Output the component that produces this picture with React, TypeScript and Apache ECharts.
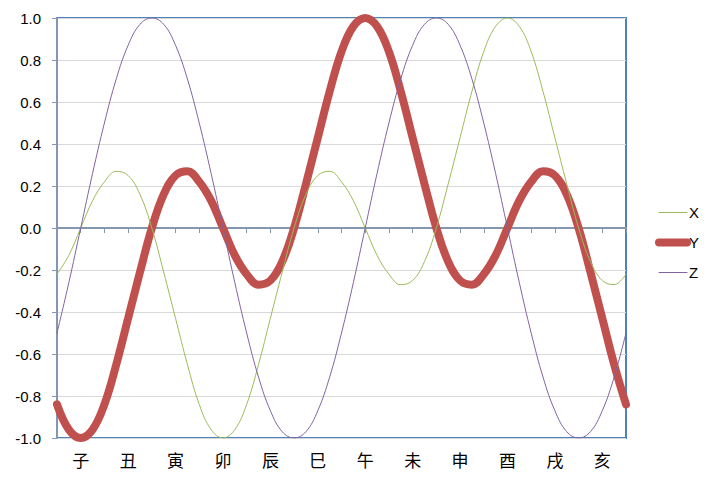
import React, { useEffect, useRef } from 'react';
import * as echarts from 'echarts';

// the twelve earthly branches; a tick every second sample, a label every fourth
const branches = ['子', '丑', '寅', '卯', '辰', '巳', '午', '未', '申', '酉', '戌', '亥'];

// 49 samples at every tick and half tick
const xValues = [
    -0.22, -0.13, 0, 0.13, 0.22, 0.27, 0.25, 0.16, 0, -0.21, -0.43, -0.65, -0.84,
    -0.96, -1, -0.96, -0.84, -0.65, -0.43, -0.21, 0, 0.16, 0.25, 0.27, 0.22, 0.13,
    0, -0.13, -0.22, -0.27, -0.25, -0.16, 0, 0.21, 0.43, 0.65, 0.84, 0.96, 1,
    0.96, 0.84, 0.65, 0.43, 0.21, 0, -0.16, -0.25, -0.27, -0.22,
];
const yValues = [
    -0.84, -0.96, -1, -0.96, -0.84, -0.65, -0.43, -0.21, 0, 0.16, 0.25, 0.27, 0.22,
    0.13, 0, -0.13, -0.22, -0.27, -0.25, -0.16, 0, 0.21, 0.43, 0.65, 0.84, 0.96,
    1, 0.96, 0.84, 0.65, 0.43, 0.21, 0, -0.16, -0.25, -0.27, -0.22, -0.13, 0,
    0.13, 0.22, 0.27, 0.25, 0.16, 0, -0.21, -0.43, -0.65, -0.84,
];
const zValues = [
    -0.5, -0.26, 0, 0.26, 0.5, 0.71, 0.87, 0.97, 1, 0.97, 0.87, 0.71, 0.5,
    0.26, 0, -0.26, -0.5, -0.71, -0.87, -0.97, -1, -0.97, -0.87, -0.71, -0.5,
    -0.26, 0, 0.26, 0.5, 0.71, 0.87, 0.97, 1, 0.97, 0.87, 0.71, 0.5, 0.26, 0,
    -0.26, -0.5, -0.71, -0.87, -0.97, -1, -0.97, -0.87, -0.71, -0.5,
];

const categories: string[] = xValues.map((_, i) =>
    i % 4 === 2 ? branches[(i - 2) / 4] : ''
);

const colorX = '#9BBB59';
const colorY = '#C0504D';
const colorZ = '#8064A2';

const App = () => {
    const chartRef = useRef<HTMLDivElement>(null);

    useEffect(() => {
        const myChart = echarts.init(chartRef.current, null, { renderer: 'svg' });

        const axisColor = '#8497B0';
        const smooth = 0.4;

        const line = (name: string, data: number[], color: string, width: number, z: number) => ({
            name,
            type: 'line',
            data,
            smooth,
            symbol: 'none',
            color,
            lineStyle: { width, color, cap: 'round' },
            z,
        });

        myChart.setOption({
            animation: false,
            grid: {
                left: 57,
                right: 82,
                top: 18,
                bottom: 46,
                show: true,
                borderColor: '#4F81BD',
                borderWidth: 2,
                backgroundColor: '#fff',
            },
            legend: {
                orient: 'vertical',
                left: 655,
                top: 205,
                padding: 0,
                itemWidth: 28,
                itemHeight: 14,
                itemGap: 15,
                itemStyle: { opacity: 0 },
                textStyle: { fontFamily: 'Liberation Sans', fontSize: 15, color: '#000', padding: [0, 0, 0, -3] },
                data: [
                    { name: 'X', lineStyle: { width: 1, color: colorX } },
                    { name: 'Y', lineStyle: { width: 8, color: colorY, cap: 'round' } },
                    { name: 'Z', lineStyle: { width: 1, color: colorZ } },
                ],
            },
            xAxis: {
                type: 'category',
                boundaryGap: false,
                data: categories,
                axisLine: { lineStyle: { color: axisColor, width: 2 } },
                axisTick: { interval: 1, length: 5, lineStyle: { color: axisColor, width: 1 } },
                axisLabel: {
                    interval: 0,
                    margin: 13,
                    fontFamily: 'Noto Sans CJK SC',
                    fontSize: 17,
                    color: '#000',
                },
                splitLine: { show: false },
            },
            yAxis: {
                type: 'value',
                min: -1,
                max: 1,
                interval: 0.2,
                axisLine: { show: true, lineStyle: { color: axisColor, width: 2 } },
                axisTick: { show: true, length: 5, lineStyle: { color: axisColor, width: 1 } },
                axisLabel: {
                    margin: 16,
                    fontFamily: 'Liberation Sans',
                    fontSize: 15,
                    color: '#000',
                    formatter: (v: number) => (Math.round(v * 10) / 10).toFixed(1),
                },
                splitLine: { lineStyle: { color: '#D9D9D9', width: 1 } },
            },
            series: [
                line('X', xValues, colorX, 1, 3),
                line('Y', yValues, colorY, 8, 2),
                line('Z', zValues, colorZ, 1, 4),
            ],
        });

        return () => {
            myChart.dispose();
        };
    }, []);

    return (
        <div
            ref={chartRef}
            style={{ position: 'absolute', left: 0, top: 0, width: '708px', height: '484px' }}
        />
    );
};

export default App;
